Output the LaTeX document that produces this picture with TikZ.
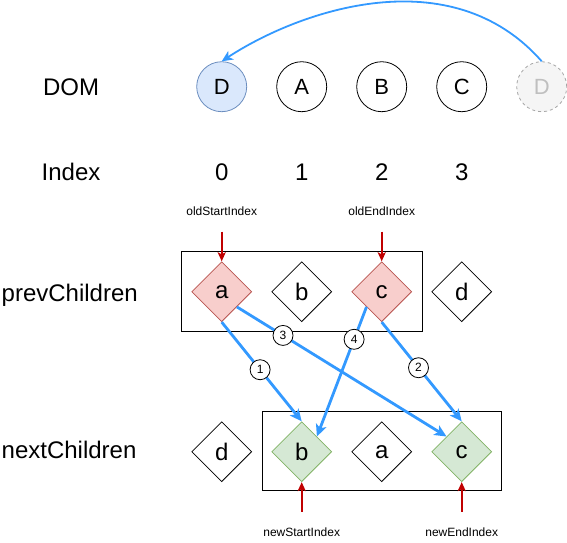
\documentclass[tikz,border=0pt]{standalone}
\usepackage{fontspec}
\setmainfont{Liberation Sans}
\usepackage{tikz}
\usetikzlibrary{shapes.geometric,arrows.meta}
\definecolor{moveblue}{HTML}{3399FF}
\definecolor{markred}{HTML}{C00000}
\definecolor{oldfill}{HTML}{F8CECC}
\definecolor{oldline}{HTML}{B85450}
\definecolor{newfill}{HTML}{D5E8D4}
\definecolor{newline}{HTML}{82B366}
\definecolor{domfill}{HTML}{DAE8FC}
\definecolor{domline}{HTML}{6C8EBF}

\begin{document}
\begin{tikzpicture}[x=1pt, y=-1pt,
  dom/.style={circle, draw, line width=0.8pt, minimum size=50pt, inner sep=0pt, font=\fontsize{22}{26}\selectfont},
  vnode/.style={diamond, draw, line width=0.8pt, minimum size=60pt, inner sep=0pt, font=\fontsize{24}{28}\selectfont},
  rowlabel/.style={inner sep=0pt, font=\fontsize{24}{28}\selectfont},
  pointer/.style={inner sep=0pt, font=\fontsize{12}{14}\selectfont},
  order/.style={circle, draw=black, text=black, fill=white, minimum size=20pt, inner sep=0pt, line width=0.8pt, font=\fontsize{12}{14}\selectfont},
  move/.style={moveblue, line width=2.8pt, -{Stealth[length=12pt, width=11pt, inset=3pt]}},
  ptrarrow/.style={markred, line width=2pt, -{Stealth[length=9pt, width=8pt, inset=2pt]}}]
\useasboundingbox (0,0) rectangle (567,542);
% row labels
\node[rowlabel, anchor=base] (ldom) at (71,95) {DOM};
\node[rowlabel, anchor=base] (lidx) at (71,180) {Index};
\node[rowlabel, anchor=base west] (lprev) at (1.5,301.7) {prevChildren};
\node[rowlabel, anchor=base west] (lnext) at (1.5,458.5) {nextChildren};
%
% DOM
\node[dom, fill=domfill, draw=domline] (dD) at (221.7,86.7) {D};
\node[dom] (dA) at (301.7,86.7) {A};
\node[dom] (dB) at (381.7,86.7) {B};
\node[dom] (dC) at (461.7,86.7) {C};
\node[dom, dashed, fill=gray!8, draw=gray!70, text=gray!50] (dG) at (541.7,86.7) {D};
\draw[moveblue, line width=1.8pt, -{Stealth[length=11pt, width=10pt, inset=3pt]}]
  (dG.north) .. controls (451,-42) and (300,10) .. (dD.north);
%
% index
\node[rowlabel, anchor=base] (i0) at (221.7,180) {0};
\node[rowlabel, anchor=base] (i1) at (301.7,180) {1};
\node[rowlabel, anchor=base] (i2) at (381.7,180) {2};
\node[rowlabel, anchor=base] (i3) at (461.7,180) {3};
%
% prevChildren
\draw[line width=1pt] (181.7,251.7) rectangle (422.3,331);
\node[vnode, fill=oldfill, draw=oldline] (pa) at (221.7,291.7) {a};
\node[vnode] (pb) at (301.7,291.7) {b};
\node[vnode, fill=oldfill, draw=oldline] (pc) at (381.7,291.7) {c};
\node[vnode] (pd) at (461.7,291.7) {d};
%
% nextChildren
\draw[line width=1pt] (262.7,411.7) rectangle (501,490.7);
\node[vnode] (nd) at (221.7,451.7) {d};
\node[vnode, fill=newfill, draw=newline] (nb) at (301.7,451.7) {b};
\node[vnode] (na) at (381.7,451.7) {a};
\node[vnode, fill=newfill, draw=newline] (nc) at (461.7,451.7) {c};
%
% pointers
\node[pointer] (oldStart) at (221.7,211.7) {oldStartIndex};
\node[pointer] (oldEnd) at (381.7,211.7) {oldEndIndex};
\node[pointer] (newStart) at (301.7,531.7) {newStartIndex};
\node[pointer] (newEnd) at (461.7,531.7) {newEndIndex};
\coordinate (os) at (221.7,231.7);
\coordinate (oe) at (381.7,231.7);
\coordinate (ns) at (301.7,511.7);
\coordinate (ne) at (461.7,511.7);
\draw[ptrarrow] (os) -- (pa.north);
\draw[ptrarrow] (oe) -- (pc.north);
\draw[ptrarrow] (ns) -- (nb.south);
\draw[ptrarrow] (ne) -- (nc.south);
%
% moves
\draw[move] (pa.south) -- node[order, pos=0.48] {1} (nb.north);
\draw[move] (pc.south) -- node[order, pos=0.46] {2} (nc.north);
\draw[move] (pa.south east) -- node[order, pos=0.22] {3} (nc.north west);
\draw[move] (pc.south west) -- node[order, pos=0.25] {4} (nb.north east);
\end{tikzpicture}
\end{document}
